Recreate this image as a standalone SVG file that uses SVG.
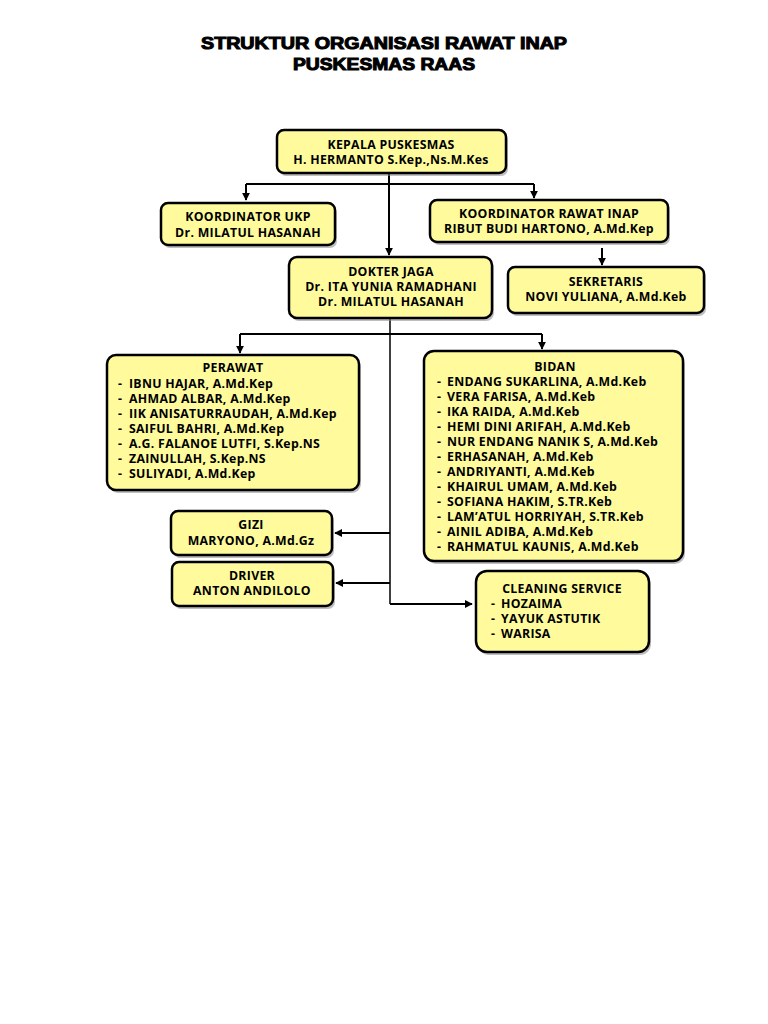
<svg xmlns="http://www.w3.org/2000/svg" width="768" height="1024" viewBox="0 0 768 1024">
<style>
.box{fill:#FFFB9C;stroke:#000;stroke-width:2.5}
.sh{fill:#888;opacity:0.55}
.t{font-family:"Open Sans","Liberation Sans",sans-serif;font-weight:bold;font-size:12.3px;letter-spacing:0.3px;fill:#000}
.c{text-anchor:middle}
.title{font-family:"Liberation Sans",Arial,sans-serif;font-weight:bold;font-size:16px;text-anchor:middle;stroke:#000;stroke-width:1}
.ln{stroke:#000;stroke-width:2;fill:none}
.ln1{stroke:#000;stroke-width:1.5;fill:none}
</style>
<defs>
<marker id="ah" viewBox="0 0 10 10" refX="9" refY="5" markerWidth="4" markerHeight="4" orient="auto" markerUnits="strokeWidth">
<path d="M0,0 L10,5 L0,10 z" fill="#000"/>
</marker>
</defs>
<rect width="768" height="1024" fill="#fff"/>
<g id="title">
<text class="title" x="384" y="49" textLength="366" lengthAdjust="spacingAndGlyphs">STRUKTUR ORGANISASI RAWAT INAP</text>
<text class="title" x="384" y="70" textLength="182" lengthAdjust="spacingAndGlyphs">PUSKESMAS RAAS</text>
</g>
<g id="connectors">
<path class="ln" d="M389,173 V255" marker-end="url(#ah)"/>
<path class="ln" d="M246,184 H534"/>
<path class="ln" d="M246,184 V200" marker-end="url(#ah)"/>
<path class="ln" d="M534,184 V198" marker-end="url(#ah)"/>
<path class="ln" d="M602,248 V265" marker-end="url(#ah)"/>
<path class="ln1" d="M390,318 V604"/>
<path class="ln" d="M240,334 H542"/>
<path class="ln" d="M240,334 V353" marker-end="url(#ah)"/>
<path class="ln" d="M542,334 V349" marker-end="url(#ah)"/>
<path class="ln" d="M390,533 H335" marker-end="url(#ah)"/>
<path class="ln" d="M390,583 H336" marker-end="url(#ah)"/>
<path class="ln" d="M390,604 H472" marker-end="url(#ah)"/>
</g>
<g id="kepala">
<rect class="sh" x="279" y="133" width="229" height="43" rx="7"/>
<rect class="box" x="277" y="130" width="229" height="43" rx="7"/>
<text class="t c" x="391" y="149">KEPALA PUSKESMAS</text>
<text class="t c" x="391" y="164">H. HERMANTO S.Kep.,Ns.M.Kes</text>
</g>
<g id="koordinator-ukp">
<rect class="sh" x="163" y="206" width="174" height="42" rx="7"/>
<rect class="box" x="161" y="203" width="174" height="42" rx="7"/>
<text class="t c" x="248" y="221">KOORDINATOR UKP</text>
<text class="t c" x="248" y="237">Dr. MILATUL HASANAH</text>
</g>
<g id="koordinator-rawat-inap">
<rect class="sh" x="432" y="203" width="238" height="42" rx="7"/>
<rect class="box" x="430" y="200" width="238" height="42" rx="7"/>
<text class="t c" x="549" y="218">KOORDINATOR RAWAT INAP</text>
<text class="t c" x="549" y="233">RIBUT BUDI HARTONO, A.Md.Kep</text>
</g>
<g id="dokter-jaga">
<rect class="sh" x="291" y="260" width="203" height="61" rx="8"/>
<rect class="box" x="289" y="257" width="203" height="61" rx="8"/>
<text class="t c" x="391" y="276">DOKTER JAGA</text>
<text class="t c" x="391" y="291">Dr. ITA YUNIA RAMADHANI</text>
<text class="t c" x="391" y="306">Dr. MILATUL HASANAH</text>
</g>
<g id="sekretaris">
<rect class="sh" x="510" y="270" width="196" height="46" rx="7"/>
<rect class="box" x="508" y="267" width="196" height="46" rx="7"/>
<text class="t c" x="606" y="286">SEKRETARIS</text>
<text class="t c" x="606" y="301">NOVI YULIANA, A.Md.Keb</text>
</g>
<g id="perawat">
<rect class="sh" x="109" y="358" width="252" height="135" rx="9"/>
<rect class="box" x="107" y="355" width="252" height="135" rx="9"/>
<text class="t c" x="233" y="372">PERAWAT</text>
<text class="t" y="388"><tspan x="118">-</tspan><tspan x="129">IBNU HAJAR, A.Md.Kep</tspan></text>
<text class="t" y="403"><tspan x="118">-</tspan><tspan x="129">AHMAD ALBAR, A.Md.Kep</tspan></text>
<text class="t" y="418"><tspan x="118">-</tspan><tspan x="129">IIK ANISATURRAUDAH, A.Md.Kep</tspan></text>
<text class="t" y="433"><tspan x="118">-</tspan><tspan x="129">SAIFUL BAHRI, A.Md.Kep</tspan></text>
<text class="t" y="448"><tspan x="118">-</tspan><tspan x="129">A.G. FALANOE LUTFI, S.Kep.NS</tspan></text>
<text class="t" y="463"><tspan x="118">-</tspan><tspan x="129">ZAINULLAH, S.Kep.NS</tspan></text>
<text class="t" y="478"><tspan x="118">-</tspan><tspan x="129">SULIYADI, A.Md.Kep</tspan></text>
</g>
<g id="bidan">
<rect class="sh" x="426" y="354" width="259" height="210" rx="10"/>
<rect class="box" x="424" y="351" width="259" height="210" rx="10"/>
<text class="t c" x="555" y="371">BIDAN</text>
<text class="t" y="386"><tspan x="437">-</tspan><tspan x="447">ENDANG SUKARLINA, A.Md.Keb</tspan></text>
<text class="t" y="401"><tspan x="437">-</tspan><tspan x="447">VERA FARISA, A.Md.Keb</tspan></text>
<text class="t" y="416"><tspan x="437">-</tspan><tspan x="447">IKA RAIDA, A.Md.Keb</tspan></text>
<text class="t" y="431"><tspan x="437">-</tspan><tspan x="447">HEMI DINI ARIFAH, A.Md.Keb</tspan></text>
<text class="t" y="446"><tspan x="437">-</tspan><tspan x="447">NUR ENDANG NANIK S, A.Md.Keb</tspan></text>
<text class="t" y="461"><tspan x="437">-</tspan><tspan x="447">ERHASANAH, A.Md.Keb</tspan></text>
<text class="t" y="476"><tspan x="437">-</tspan><tspan x="447">ANDRIYANTI, A.Md.Keb</tspan></text>
<text class="t" y="491"><tspan x="437">-</tspan><tspan x="447">KHAIRUL UMAM, A.Md.Keb</tspan></text>
<text class="t" y="506"><tspan x="437">-</tspan><tspan x="447">SOFIANA HAKIM, S.TR.Keb</tspan></text>
<text class="t" y="521"><tspan x="437">-</tspan><tspan x="447">LAM’ATUL HORRIYAH, S.TR.Keb</tspan></text>
<text class="t" y="536"><tspan x="437">-</tspan><tspan x="447">AINIL ADIBA, A.Md.Keb</tspan></text>
<text class="t" y="551"><tspan x="437">-</tspan><tspan x="447">RAHMATUL KAUNIS, A.Md.Keb</tspan></text>
</g>
<g id="gizi">
<rect class="sh" x="173" y="514" width="161" height="44" rx="7"/>
<rect class="box" x="171" y="511" width="161" height="44" rx="7"/>
<text class="t c" x="251" y="529">GIZI</text>
<text class="t c" x="251" y="545">MARYONO, A.Md.Gz</text>
</g>
<g id="driver">
<rect class="sh" x="174" y="565" width="161" height="44" rx="7"/>
<rect class="box" x="172" y="562" width="161" height="44" rx="7"/>
<text class="t c" x="252" y="580">DRIVER</text>
<text class="t c" x="252" y="595">ANTON ANDILOLO</text>
</g>
<g id="cleaning-service">
<rect class="sh" x="478" y="574" width="173" height="81" rx="11"/>
<rect class="box" x="476" y="571" width="173" height="81" rx="11"/>
<text class="t c" x="562" y="593">CLEANING SERVICE</text>
<text class="t" y="608"><tspan x="491">-</tspan><tspan x="501">HOZAIMA</tspan></text>
<text class="t" y="623"><tspan x="491">-</tspan><tspan x="501">YAYUK ASTUTIK</tspan></text>
<text class="t" y="638"><tspan x="491">-</tspan><tspan x="501">WARISA</tspan></text>
</g>
</svg>
